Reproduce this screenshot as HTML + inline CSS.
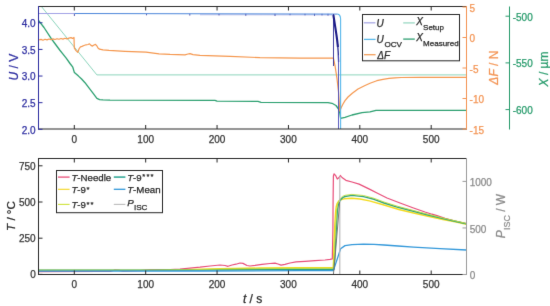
<!DOCTYPE html>
<html><head><meta charset="utf-8"><title>Chart</title>
<style>
html,body{margin:0;padding:0;background:#fff;width:550px;height:306px;overflow:hidden}
svg{display:block;font-family:'Liberation Sans',Arial,Helvetica,sans-serif}
text{stroke-width:0.25px;paint-order:stroke}
.ast{font-size:7.6px;letter-spacing:1.2px}
</style></head><body>
<svg width="550" height="306" viewBox="0 0 550 306">
<defs>
<clipPath id="ctop"><rect x="38.5" y="6.5" width="428" height="122.5"/></clipPath>
<clipPath id="cbot"><rect x="38.5" y="158.5" width="428" height="116"/></clipPath>
</defs>
<filter id="soft" x="0" y="0" width="550" height="306" filterUnits="userSpaceOnUse" color-interpolation-filters="sRGB"><feConvolveMatrix order="3" kernelMatrix="0.0064 0.0672 0.0064 0.0672 0.7056 0.0672 0.0064 0.0672 0.0064" edgeMode="duplicate"/></filter>
<g filter="url(#soft)">
<rect width="550" height="306" fill="#fff"/>
<g clip-path="url(#ctop)">
<polyline points="41.00,6.00 96.90,74.90 466.50,74.90" fill="none" stroke="#8cd4bc" stroke-width="1.0" stroke-linejoin="round" stroke-linecap="butt" />
<polyline points="38.50,20.30 44.00,27.50 51.10,38.30 56.00,45.00 59.70,50.00 62.80,53.80 66.20,58.20 70.00,63.50 72.80,67.20 74.40,72.60 78.50,76.10 81.60,79.00 85.00,82.70 88.00,86.60 92.40,92.30 96.90,98.40 99.60,99.60 103.00,99.90 110.00,100.20 215.00,100.30 217.00,101.10 258.00,101.30 261.00,102.30 328.00,102.60 332.00,103.30 336.00,105.50 338.50,109.00 339.80,113.00 340.60,118.30 345.00,117.30 352.00,115.00 362.00,112.60 370.00,111.90 376.00,110.40 466.50,110.40" fill="none" stroke="#2ca070" stroke-width="1.3" stroke-linejoin="round" stroke-linecap="butt" />
<polyline points="38.50,40.00 41.00,39.40 43.00,40.20 45.00,39.30 47.00,39.90 49.00,39.00 51.00,39.70 53.00,38.90 55.00,39.50 57.00,38.70 59.00,39.30 61.00,38.50 63.00,39.10 65.00,38.30 67.00,38.90 69.00,38.10 71.00,37.60 72.50,38.40 74.00,37.50 74.30,48.00 76.00,50.60 77.80,52.40 79.20,48.50 80.50,46.80 82.00,46.40 84.00,45.50 86.00,44.80 88.00,44.50 89.50,43.80 91.00,45.40 92.50,46.10 94.00,45.00 95.50,44.40 96.80,45.80 98.00,48.00 99.50,49.20 103.00,49.90 109.00,50.40 125.00,51.30 146.00,52.20 159.00,53.80 170.00,54.40 185.00,54.80 188.00,54.00 190.00,53.60 193.00,54.60 200.00,55.30 230.00,56.40 260.00,57.60 300.00,58.20 333.40,58.20 335.00,65.70 337.00,78.70 338.50,91.80 339.80,111.00 341.50,107.00 343.00,104.00 345.00,100.60 348.00,97.00 352.30,93.20 358.00,89.00 364.50,85.70 370.00,83.20 376.80,80.70 383.00,79.30 389.00,78.40 395.00,77.80 401.30,77.50 420.00,77.40 466.50,77.40" fill="none" stroke="#f5974e" stroke-width="1.2" stroke-linejoin="round" stroke-linecap="butt" />
<path d="M38.5,13.5 L74.3,13.5" fill="none" stroke="#a2a2e6" stroke-width="1.0"/>
<path d="M200,14.8 L333,15.0" fill="none" stroke="#4848c0" stroke-width="0.7" opacity="0.45"/>
<path d="M74.4,13.8 L74.4,16.0 M146.5,13.8 L146.5,15.3 M189.8,13.8 L189.8,15.600000000000001 M219,13.8 L219,15.4 M245.8,13.8 L245.8,15.8 M275,13.8 L275,16.0 M290,13.8 L290,15.200000000000001 M305,13.8 L305,15.3 M314.5,13.8 L314.5,15.8 M322,13.8 L322,15.4 M328,13.8 L328,15.600000000000001 " fill="none" stroke="#2a2a9a" stroke-width="1.0" opacity="0.8"/>
<path d="M74.3,13.5 L337.5,14.1" fill="none" stroke="#4c86da" stroke-width="1.0"/>
<path d="M337.5,14.1 Q340.4,14.2 340.6,19 L340.6,129.5" fill="none" stroke="#56b6ea" stroke-width="1.1"/>
<path d="M333.5,14 L333.5,66" fill="none" stroke="#2a2a96" stroke-width="0.9"/>
<path d="M333.4,15 C334.0,19 335.3,27 336.6,36 C337.2,40 337.6,44 337.9,47" fill="none" stroke="#1a1a86" stroke-width="2.1"/>
<path d="M337.6,44 C338.1,49 338.4,54 338.6,62" fill="none" stroke="#20208c" stroke-width="1.3"/>
<path d="M338.5,55 L338.5,129.5" fill="none" stroke="#4a4ab8" stroke-width="0.9"/>
</g>
<line x1="38.0" y1="6.5" x2="467.0" y2="6.5" stroke="#262626" stroke-width="1.0" />
<line x1="38.0" y1="129.0" x2="467.0" y2="129.0" stroke="#262626" stroke-width="1.0" />
<line x1="74.3" y1="6.5" x2="74.3" y2="10.5" stroke="#262626" stroke-width="1.0" />
<line x1="74.3" y1="129.0" x2="74.3" y2="125.0" stroke="#262626" stroke-width="1.0" />
<text x="74.3" y="142.8" fill="#333333" stroke="#333333" font-size="10" text-anchor="middle" >0</text>
<line x1="145.68" y1="6.5" x2="145.68" y2="10.5" stroke="#262626" stroke-width="1.0" />
<line x1="145.68" y1="129.0" x2="145.68" y2="125.0" stroke="#262626" stroke-width="1.0" />
<text x="145.7" y="142.8" fill="#333333" stroke="#333333" font-size="10" text-anchor="middle" >100</text>
<line x1="217.06" y1="6.5" x2="217.06" y2="10.5" stroke="#262626" stroke-width="1.0" />
<line x1="217.06" y1="129.0" x2="217.06" y2="125.0" stroke="#262626" stroke-width="1.0" />
<text x="217.1" y="142.8" fill="#333333" stroke="#333333" font-size="10" text-anchor="middle" >200</text>
<line x1="288.44" y1="6.5" x2="288.44" y2="10.5" stroke="#262626" stroke-width="1.0" />
<line x1="288.44" y1="129.0" x2="288.44" y2="125.0" stroke="#262626" stroke-width="1.0" />
<text x="288.4" y="142.8" fill="#333333" stroke="#333333" font-size="10" text-anchor="middle" >300</text>
<line x1="359.82" y1="6.5" x2="359.82" y2="10.5" stroke="#262626" stroke-width="1.0" />
<line x1="359.82" y1="129.0" x2="359.82" y2="125.0" stroke="#262626" stroke-width="1.0" />
<text x="359.8" y="142.8" fill="#333333" stroke="#333333" font-size="10" text-anchor="middle" >400</text>
<line x1="431.2" y1="6.5" x2="431.2" y2="10.5" stroke="#262626" stroke-width="1.0" />
<line x1="431.2" y1="129.0" x2="431.2" y2="125.0" stroke="#262626" stroke-width="1.0" />
<text x="431.2" y="142.8" fill="#333333" stroke="#333333" font-size="10" text-anchor="middle" >500</text>
<line x1="38.5" y1="6.0" x2="38.5" y2="129.5" stroke="#2c2ca0" stroke-width="1.0" />
<line x1="38.5" y1="129.3" x2="42.5" y2="129.3" stroke="#2c2ca0" stroke-width="1.0" />
<text x="35.7" y="133.6" fill="#2c2ca0" stroke="#2c2ca0" font-size="10" text-anchor="end" >2.0</text>
<line x1="38.5" y1="102.67000000000002" x2="42.5" y2="102.67000000000002" stroke="#2c2ca0" stroke-width="1.0" />
<text x="35.7" y="107.0" fill="#2c2ca0" stroke="#2c2ca0" font-size="10" text-anchor="end" >2.5</text>
<line x1="38.5" y1="76.04000000000002" x2="42.5" y2="76.04000000000002" stroke="#2c2ca0" stroke-width="1.0" />
<text x="35.7" y="80.3" fill="#2c2ca0" stroke="#2c2ca0" font-size="10" text-anchor="end" >3.0</text>
<line x1="38.5" y1="49.41000000000001" x2="42.5" y2="49.41000000000001" stroke="#2c2ca0" stroke-width="1.0" />
<text x="35.7" y="53.7" fill="#2c2ca0" stroke="#2c2ca0" font-size="10" text-anchor="end" >3.5</text>
<line x1="38.5" y1="22.780000000000015" x2="42.5" y2="22.780000000000015" stroke="#2c2ca0" stroke-width="1.0" />
<text x="35.7" y="27.1" fill="#2c2ca0" stroke="#2c2ca0" font-size="10" text-anchor="end" >4.0</text>
<line x1="466.5" y1="6.0" x2="466.5" y2="129.5" stroke="#f39352" stroke-width="1.0" />
<line x1="466.5" y1="7.0" x2="462.5" y2="7.0" stroke="#f39352" stroke-width="1.0" />
<text x="469.6" y="11.7" fill="#f39352" stroke="#f39352" font-size="10" text-anchor="start" >5</text>
<line x1="466.5" y1="37.5" x2="462.5" y2="37.5" stroke="#f39352" stroke-width="1.0" />
<text x="469.6" y="42.2" fill="#f39352" stroke="#f39352" font-size="10" text-anchor="start" >0</text>
<line x1="466.5" y1="68.0" x2="462.5" y2="68.0" stroke="#f39352" stroke-width="1.0" />
<text x="469.6" y="72.7" fill="#f39352" stroke="#f39352" font-size="10" text-anchor="start" >-5</text>
<line x1="466.5" y1="98.5" x2="462.5" y2="98.5" stroke="#f39352" stroke-width="1.0" />
<text x="469.6" y="103.2" fill="#f39352" stroke="#f39352" font-size="10" text-anchor="start" >-10</text>
<line x1="466.5" y1="129.0" x2="462.5" y2="129.0" stroke="#f39352" stroke-width="1.0" />
<text x="469.6" y="133.7" fill="#f39352" stroke="#f39352" font-size="10" text-anchor="start" >-15</text>
<line x1="509.5" y1="6.5" x2="509.5" y2="129.5" stroke="#259a6a" stroke-width="1.0" />
<line x1="509.5" y1="16.2" x2="505.5" y2="16.2" stroke="#259a6a" stroke-width="1.0" />
<text x="512.7" y="20.6" fill="#259a6a" stroke="#259a6a" font-size="10" text-anchor="start" >-500</text>
<line x1="509.5" y1="62.900000000000006" x2="505.5" y2="62.900000000000006" stroke="#259a6a" stroke-width="1.0" />
<text x="512.7" y="67.3" fill="#259a6a" stroke="#259a6a" font-size="10" text-anchor="start" >-550</text>
<line x1="509.5" y1="109.60000000000001" x2="505.5" y2="109.60000000000001" stroke="#259a6a" stroke-width="1.0" />
<text x="512.7" y="114.0" fill="#259a6a" stroke="#259a6a" font-size="10" text-anchor="start" >-600</text>
<text transform="translate(17.8,67.2) rotate(-90)" fill="#2c2ca0" stroke="#2c2ca0" font-size="12" text-anchor="middle"><tspan font-style="italic">U</tspan> / V</text>
<text transform="translate(498.4,67.6) rotate(-90)" fill="#f39352" stroke="#f39352" font-size="12" text-anchor="middle"><tspan font-style="italic">ΔF</tspan> / N</text>
<text transform="translate(548.1,69.0) rotate(-90)" fill="#259a6a" stroke="#259a6a" font-size="12" text-anchor="middle"><tspan font-style="italic">X</tspan> / µm</text>
<rect x="362.5" y="14.5" width="97" height="46.3" fill="#ffffff" stroke="#262626" stroke-width="1"/>
<line x1="363.8" y1="22.8" x2="375.40000000000003" y2="22.8" stroke="#a8a8e4" stroke-width="1.3" />
<line x1="364" y1="39.4" x2="375.6" y2="39.4" stroke="#58b8ea" stroke-width="1.3" />
<line x1="364" y1="54.7" x2="375.6" y2="54.7" stroke="#f49d58" stroke-width="1.3" />
<line x1="403.2" y1="22.9" x2="414.8" y2="22.9" stroke="#9ad9c3" stroke-width="1.3" />
<line x1="403.2" y1="39.1" x2="414.8" y2="39.1" stroke="#2f9f72" stroke-width="1.3" />
<text x="376.6" y="26.8" fill="#262626" stroke="#262626" font-size="10"><tspan font-style="italic">U</tspan></text>
<text x="376.6" y="43.0" fill="#262626" stroke="#262626" font-size="10"><tspan font-style="italic">U</tspan><tspan dx="0.6" dy="3.9" font-size="8.1">OCV</tspan></text>
<text x="377.2" y="58.6" fill="#262626" stroke="#262626" font-size="10"><tspan font-style="italic">ΔF</tspan></text>
<text x="416.3" y="24.5" fill="#262626" stroke="#262626" font-size="10"><tspan font-style="italic">X</tspan><tspan dx="0.1" dy="5.0" font-size="8.0">Setup</tspan></text>
<text x="416.3" y="40.8" fill="#262626" stroke="#262626" font-size="10"><tspan font-style="italic">X</tspan><tspan dx="0.1" dy="5.0" font-size="8.0">Measured</tspan></text>
<g clip-path="url(#cbot)">
<polyline points="38.50,271.60 100.00,271.50 111.00,271.30 115.00,270.00 119.00,270.30 123.00,271.20 140.00,270.70 150.00,269.90 170.00,269.50 180.00,269.00 190.00,268.10 200.00,267.20 210.00,266.00 215.00,265.50 220.00,265.00 225.00,265.50 228.00,266.30 232.00,265.00 236.00,264.20 240.00,263.00 243.00,263.40 247.00,265.50 250.00,266.00 255.00,265.40 262.00,264.40 270.00,263.50 275.00,263.20 278.00,264.00 281.00,265.10 285.00,264.40 290.00,263.00 296.00,261.80 305.00,261.30 315.00,260.60 325.00,260.00 330.00,259.30 332.30,258.90 332.90,230.00 333.10,200.00 333.40,176.00 334.10,173.80 335.50,175.30 337.30,179.00 338.80,177.80 340.40,175.50 342.00,177.50 345.90,180.30 352.00,182.00 359.10,184.10 369.40,189.10 378.00,193.50 387.00,198.00 400.00,203.00 413.50,208.00 425.00,212.00 432.00,214.20 437.00,215.60 445.00,218.30 455.00,221.10 466.50,223.60" fill="none" stroke="#e84c78" stroke-width="1.2" stroke-linejoin="round" stroke-linecap="butt" />
<polyline points="38.50,270.40 160.00,270.30 185.00,269.60 220.00,268.80 245.00,268.30 260.00,267.90 300.00,267.60 333.20,267.50 333.60,260.00 334.10,240.00 334.80,225.00 335.60,212.00 336.20,206.80 337.20,203.30 338.50,201.40 340.00,200.40 342.00,199.40 344.00,198.80 351.80,198.20 360.00,199.00 369.40,200.90 384.00,205.00 398.80,209.50 413.50,213.00 428.00,216.30 443.00,219.50 455.00,221.90 466.50,224.20" fill="none" stroke="#f4db1e" stroke-width="1.4" stroke-linejoin="round" stroke-linecap="butt" />
<polyline points="38.50,270.30 150.00,270.20 220.00,269.80 280.00,269.30 334.00,269.20 334.60,260.00 335.70,240.00 336.50,225.00 337.40,210.00 338.30,205.00 339.50,201.60 341.00,199.20 343.00,197.40 345.00,196.50 351.80,195.40 363.50,196.60 374.00,199.30 384.00,203.00 398.00,207.30 413.50,211.30 428.00,215.00 443.00,218.60 455.00,221.30 466.50,223.90" fill="none" stroke="#2ea47a" stroke-width="1.4" stroke-linejoin="round" stroke-linecap="butt" />
<polyline points="38.50,270.30 160.00,270.20 185.00,269.80 220.00,269.10 245.00,268.80 260.00,268.60 300.00,268.40 333.60,268.30 334.20,260.00 335.00,240.00 335.80,225.00 336.70,210.00 337.60,204.50 338.80,200.80 340.50,198.20 342.50,196.40 345.00,195.30 351.80,194.40 363.50,195.50 374.00,198.30 384.00,202.00 398.00,206.40 413.50,210.50 428.00,214.30 443.00,218.00 455.00,220.80 466.50,223.40" fill="none" stroke="#bfdc40" stroke-width="0.9" stroke-linejoin="round" stroke-linecap="butt" />
<polyline points="38.50,271.20 200.00,271.00 300.00,270.70 333.40,270.60 340.60,248.80 345.00,245.60 352.00,244.70 358.00,244.30 363.50,244.10 374.00,244.30 384.00,245.00 398.00,246.00 413.50,247.10 440.00,248.60 466.50,250.00" fill="none" stroke="#3398da" stroke-width="1.3" stroke-linejoin="round" stroke-linecap="butt" />
<path d="M339.8,176.5 L339.8,274.5" fill="none" stroke="#bcbcbc" stroke-width="1.2"/>
<path d="M333.4,274.5 L335.0,258 L336.5,240 L338.2,220 L339.6,202" fill="none" stroke="#6a6a6a" stroke-width="0.9"/>
</g>
<line x1="38.0" y1="158.5" x2="467.0" y2="158.5" stroke="#262626" stroke-width="1.0" />
<line x1="38.0" y1="274.5" x2="467.0" y2="274.5" stroke="#262626" stroke-width="1.0" />
<line x1="74.3" y1="158.5" x2="74.3" y2="162.5" stroke="#262626" stroke-width="1.0" />
<line x1="74.3" y1="274.5" x2="74.3" y2="270.5" stroke="#262626" stroke-width="1.0" />
<text x="74.3" y="287.8" fill="#333333" stroke="#333333" font-size="10" text-anchor="middle" >0</text>
<line x1="145.68" y1="158.5" x2="145.68" y2="162.5" stroke="#262626" stroke-width="1.0" />
<line x1="145.68" y1="274.5" x2="145.68" y2="270.5" stroke="#262626" stroke-width="1.0" />
<text x="145.7" y="287.8" fill="#333333" stroke="#333333" font-size="10" text-anchor="middle" >100</text>
<line x1="217.06" y1="158.5" x2="217.06" y2="162.5" stroke="#262626" stroke-width="1.0" />
<line x1="217.06" y1="274.5" x2="217.06" y2="270.5" stroke="#262626" stroke-width="1.0" />
<text x="217.1" y="287.8" fill="#333333" stroke="#333333" font-size="10" text-anchor="middle" >200</text>
<line x1="288.44" y1="158.5" x2="288.44" y2="162.5" stroke="#262626" stroke-width="1.0" />
<line x1="288.44" y1="274.5" x2="288.44" y2="270.5" stroke="#262626" stroke-width="1.0" />
<text x="288.4" y="287.8" fill="#333333" stroke="#333333" font-size="10" text-anchor="middle" >300</text>
<line x1="359.82" y1="158.5" x2="359.82" y2="162.5" stroke="#262626" stroke-width="1.0" />
<line x1="359.82" y1="274.5" x2="359.82" y2="270.5" stroke="#262626" stroke-width="1.0" />
<text x="359.8" y="287.8" fill="#333333" stroke="#333333" font-size="10" text-anchor="middle" >400</text>
<line x1="431.2" y1="158.5" x2="431.2" y2="162.5" stroke="#262626" stroke-width="1.0" />
<line x1="431.2" y1="274.5" x2="431.2" y2="270.5" stroke="#262626" stroke-width="1.0" />
<text x="431.2" y="287.8" fill="#333333" stroke="#333333" font-size="10" text-anchor="middle" >500</text>
<line x1="38.5" y1="158.0" x2="38.5" y2="275.0" stroke="#262626" stroke-width="1.0" />
<line x1="38.5" y1="274.4" x2="42.5" y2="274.4" stroke="#262626" stroke-width="1.0" />
<text x="35.7" y="278.3" fill="#333333" stroke="#333333" font-size="10" text-anchor="end" >0</text>
<line x1="38.5" y1="238.2" x2="42.5" y2="238.2" stroke="#262626" stroke-width="1.0" />
<text x="35.7" y="242.1" fill="#333333" stroke="#333333" font-size="10" text-anchor="end" >250</text>
<line x1="38.5" y1="201.99999999999997" x2="42.5" y2="201.99999999999997" stroke="#262626" stroke-width="1.0" />
<text x="35.7" y="205.9" fill="#333333" stroke="#333333" font-size="10" text-anchor="end" >500</text>
<line x1="38.5" y1="165.79999999999995" x2="42.5" y2="165.79999999999995" stroke="#262626" stroke-width="1.0" />
<text x="35.7" y="169.7" fill="#333333" stroke="#333333" font-size="10" text-anchor="end" >750</text>
<line x1="466.5" y1="158.0" x2="466.5" y2="275.0" stroke="#9a9a9a" stroke-width="1.0" />
<line x1="466.5" y1="274.5" x2="462.5" y2="274.5" stroke="#9a9a9a" stroke-width="1.0" />
<text x="469.7" y="279.1" fill="#8a8a8a" stroke="#8a8a8a" font-size="10" text-anchor="start" >0</text>
<line x1="466.5" y1="227.95" x2="462.5" y2="227.95" stroke="#9a9a9a" stroke-width="1.0" />
<text x="469.7" y="232.5" fill="#8a8a8a" stroke="#8a8a8a" font-size="10" text-anchor="start" >500</text>
<line x1="466.5" y1="181.39999999999998" x2="462.5" y2="181.39999999999998" stroke="#9a9a9a" stroke-width="1.0" />
<text x="469.7" y="186.0" fill="#8a8a8a" stroke="#8a8a8a" font-size="10" text-anchor="start" >1000</text>
<text transform="translate(15.4,216.0) rotate(-90)" fill="#262626" stroke="#262626" font-size="11.6" text-anchor="middle"><tspan font-style="italic">T</tspan> / °C</text>
<text transform="translate(505.0,216.1) rotate(-90)" fill="#8a8a8a" stroke="#8a8a8a" font-size="12" text-anchor="middle"><tspan font-style="italic">P</tspan><tspan dx="0.4" dy="5.0" font-size="8.9">ISC</tspan><tspan dy="-5.0"> / W</tspan></text>
<text x="252.6" y="302.5" fill="#262626" stroke="#262626" font-size="12" text-anchor="middle"><tspan font-style="italic">t</tspan> / s</text>
<rect x="56.5" y="170.5" width="106" height="42.2" fill="#ffffff" stroke="#262626" stroke-width="1"/>
<line x1="58" y1="177.1" x2="69.6" y2="177.1" stroke="#e84f78" stroke-width="1.3" />
<line x1="58" y1="189.3" x2="69.6" y2="189.3" stroke="#f2d51f" stroke-width="1.1" />
<line x1="58" y1="204.4" x2="69.6" y2="204.4" stroke="#cfe33a" stroke-width="1.1" />
<line x1="113.8" y1="177.1" x2="125.39999999999999" y2="177.1" stroke="#4cb3a4" stroke-width="1.8" />
<line x1="113.8" y1="189.3" x2="125.39999999999999" y2="189.3" stroke="#3398da" stroke-width="1.3" />
<line x1="113.8" y1="204.4" x2="125.39999999999999" y2="204.4" stroke="#bcbcbc" stroke-width="1.1" />
<text x="71.4" y="180.5" fill="#262626" stroke="#262626" font-size="9.7"><tspan font-style="italic">T</tspan>-Needle</text>
<text x="71.4" y="192.9" fill="#262626" stroke="#262626" font-size="9.7"><tspan font-style="italic">T</tspan>-9<tspan class="ast" dx="0.5" dy="-1.2">*</tspan></text>
<text x="71.4" y="208.1" fill="#262626" stroke="#262626" font-size="9.7"><tspan font-style="italic">T</tspan>-9<tspan class="ast" dx="0.5" dy="-1.2">**</tspan></text>
<text x="127.2" y="180.5" fill="#262626" stroke="#262626" font-size="9.7"><tspan font-style="italic">T</tspan>-9<tspan class="ast" dx="0.5" dy="-1.2">***</tspan></text>
<text x="127.2" y="192.9" fill="#262626" stroke="#262626" font-size="9.7"><tspan font-style="italic">T</tspan>-Mean</text>
<text x="127.2" y="206.2" fill="#262626" stroke="#262626" font-size="9.7"><tspan font-style="italic">P</tspan><tspan dx="0.3" dy="4.2" font-size="8.1">ISC</tspan></text>
</g>
</svg>
</body></html>
